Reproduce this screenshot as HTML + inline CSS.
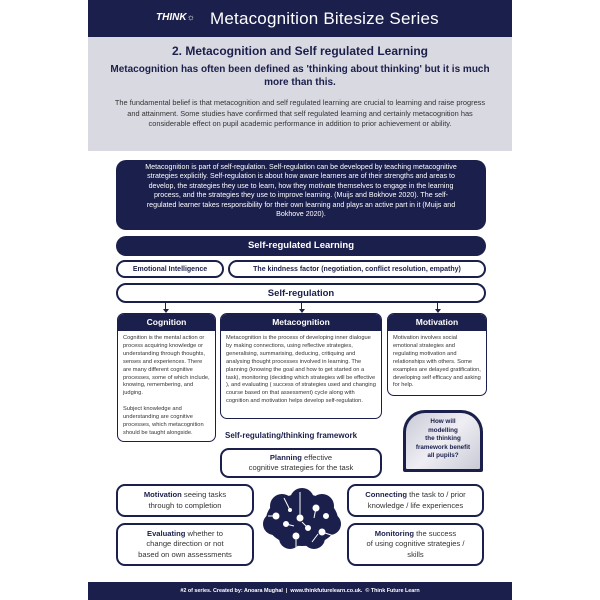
<!DOCTYPE html>
<html><head><meta charset="utf-8"><style>
*{margin:0;padding:0;box-sizing:border-box}
body{width:600px;height:600px;background:#fff;position:relative;overflow:hidden;font-family:"Liberation Sans",sans-serif;color:#1b1f4b}
.a{position:absolute}
.navy{background:#1b1f4b;color:#fff}
.pill{border:2px solid #1b1f4b;border-radius:10px;background:#fff;text-align:center;font-weight:bold;display:flex;align-items:center;justify-content:center}
.card{border:1.5px solid #1b1f4b;border-radius:7px;background:#fff;overflow:hidden}
.card h4{background:#1b1f4b;color:#fff;text-align:center;font-size:8.5px;height:17px;line-height:17px}
.card p{font-size:5.7px;line-height:7.9px;padding:4px 5px;color:#333}
.fb{border:2px solid #1b1f4b;border-radius:9px;background:#fff;text-align:center;font-size:7.6px;line-height:10.2px;display:flex;align-items:center;justify-content:center;color:#333}
.fb b{color:#1b1f4b}
.arr{position:absolute;width:1px;height:7px;background:#1b1f4b}
.arr:after{content:"";position:absolute;left:-2.5px;bottom:-3px;border-left:3px solid transparent;border-right:3px solid transparent;border-top:4px solid #1b1f4b}
</style></head><body>
<div class="a navy" style="left:88px;top:0;width:424px;height:37px"></div>
<div class="a" style="left:156px;top:12px;color:#fff;font-weight:900;font-size:10px;font-style:italic">THINK<span style="font-size:9px">☼</span></div>
<div class="a" style="left:210px;top:9px;color:#fff;font-size:17px;letter-spacing:0.2px">Metacognition Bitesize Series</div>
<div class="a" style="left:88px;top:37px;width:424px;height:114px;background:#d9d9e2"></div>
<div class="a" style="left:88px;top:44px;width:424px;text-align:center;font-weight:bold;font-size:12px">2. Metacognition and Self regulated Learning</div>
<div class="a" style="left:100px;top:63px;width:400px;text-align:center;font-weight:bold;font-size:10px;line-height:13px">Metacognition has often been defined as 'thinking about thinking' but it is much more than this.</div>
<div class="a" style="left:110px;top:98px;width:380px;text-align:center;font-size:7.4px;line-height:10.5px;color:#333">The fundamental belief is that metacognition and self regulated learning are crucial to learning and raise progress and attainment. Some studies have confirmed that self regulated learning and certainly metacognition has considerable effect on pupil academic performance in addition to prior achievement or ability.</div>
<div class="a navy" style="left:116px;top:160px;width:370px;height:70px;border-radius:10px;font-size:7.1px;line-height:9.4px;text-align:center;padding:3px 24px 0">Metacognition is part of self-regulation. Self-regulation can be developed by teaching metacognitive strategies explicitly. Self-regulation is about how aware learners are of their strengths and areas to develop, the strategies they use to learn, how they motivate themselves to engage in the learning process, and the strategies they use to improve learning. (Muijs and Bokhove 2020). The self-regulated learner takes responsibility for their own learning and plays an active part in it (Muijs and Bokhove 2020).</div>
<div class="a navy" style="left:116px;top:236px;width:370px;height:20px;border-radius:10px;text-align:center;font-weight:bold;font-size:9.5px;line-height:20px">Self-regulated Learning</div>
<div class="a pill" style="left:116px;top:260px;width:108px;height:18px;font-size:7px">Emotional Intelligence</div>
<div class="a pill" style="left:228px;top:260px;width:258px;height:18px;font-size:7px">The kindness factor (negotiation, conflict resolution, empathy)</div>
<div class="a pill" style="left:116px;top:283px;width:370px;height:20px;font-size:9.5px">Self-regulation</div>
<div class="arr" style="left:165px;top:303px"></div>
<div class="arr" style="left:301px;top:303px"></div>
<div class="arr" style="left:437px;top:303px"></div>
<div class="a card" style="left:117px;top:313px;width:99px;height:129px"><h4>Cognition</h4><p>Cognition is the mental action or process acquiring knowledge or understanding through thoughts, senses and experiences. There are many different cognitive processes, some of which include, knowing, remembering, and judging.<br><br>Subject knowledge and understanding are cognitive processes, which metacognition should be taught alongside.</p></div>
<div class="a card" style="left:220px;top:313px;width:162px;height:106px"><h4>Metacognition</h4><p>Metacognition is the process of developing inner dialogue by making connections, using reflective strategies, generalising, summarising, deducing, critiquing and analysing thought processes involved in learning. The planning (knowing the goal and how to get started on a task), monitoring (deciding which strategies will be effective ), and evaluating ( success of strategies used and changing course based on that assessment) cycle along with cognition and motivation helps develop self-regulation.</p></div>
<div class="a card" style="left:387px;top:313px;width:100px;height:83px"><h4>Motivation</h4><p>Motivation involves social emotional strategies and regulating motivation and relationships with others. Some examples are delayed gratification, developing self efficacy and asking for help.</p></div>
<div class="a" style="left:225px;top:431px;font-weight:bold;font-size:8px">Self-regulating/thinking framework</div>
<div class="a" style="left:403px;top:410px;width:80px;height:62px;background:#1b1f4b;border-radius:22px 22px 2px 2px;padding:3px">
<div style="width:100%;height:100%;background:linear-gradient(135deg,#c9cad6,#eeeef3 50%,#c9cad6);border-radius:19px 19px 1px 1px;text-align:center;font-weight:bold;font-size:6.3px;line-height:8.5px;padding-top:5px">How will<br>modelling<br>the thinking<br>framework benefit<br>all pupils?</div></div>
<div class="a fb" style="left:220px;top:448px;width:162px;height:30px">
<span><b>Planning</b> effective<br>cognitive strategies for the task</span></div>
<div class="a fb" style="left:116px;top:484px;width:138px;height:33px"><span><b>Motivation</b> seeing tasks<br>through to completion</span></div>
<div class="a fb" style="left:116px;top:523px;width:138px;height:43px"><span><b>Evaluating</b> whether to<br>change direction or not<br>based on own assessments</span></div>
<div class="a fb" style="left:347px;top:484px;width:137px;height:33px"><span><b>Connecting</b> the task to / prior<br>knowledge / life experiences</span></div>
<div class="a fb" style="left:347px;top:523px;width:137px;height:43px"><span><b>Monitoring</b> the success<br>of using cognitive strategies /<br>skills</span></div>
<svg class="a" style="left:260px;top:488px" width="84" height="64" viewBox="0 0 84 64">
<g fill="#1b1f4b"><ellipse cx="42" cy="32" rx="36" ry="26"/><circle cx="22" cy="18" r="12"/><circle cx="42" cy="12" r="12"/><circle cx="62" cy="18" r="12"/><circle cx="14" cy="36" r="11"/><circle cx="70" cy="36" r="11"/><circle cx="30" cy="50" r="11"/><circle cx="54" cy="50" r="11"/></g>
<g stroke="#fff" stroke-width="1" fill="#fff"><line x1="40" y1="4" x2="40" y2="30"/><circle cx="40" cy="30" r="3"/><line x1="24" y1="10" x2="30" y2="22"/><circle cx="30" cy="22" r="1.5"/><line x1="8" y1="28" x2="18" y2="28"/><circle cx="16" cy="28" r="3"/><line x1="26" y1="36" x2="34" y2="38"/><circle cx="26" cy="36" r="2.5"/><line x1="48" y1="40" x2="42" y2="34"/><circle cx="48" cy="40" r="2.5"/><line x1="56" y1="20" x2="54" y2="30"/><circle cx="56" cy="20" r="3"/><circle cx="66" cy="28" r="2.5"/><line x1="62" y1="44" x2="74" y2="48"/><circle cx="62" cy="44" r="3"/><line x1="36" y1="48" x2="36" y2="60"/><circle cx="36" cy="48" r="3"/><line x1="52" y1="54" x2="58" y2="46"/></g></svg>
<div class="a navy" style="left:88px;top:582px;width:424px;height:18px;text-align:center;font-size:5.4px;line-height:18px;font-weight:bold">#2 of series. Created by: Anoara Mughal &nbsp;|&nbsp; www.thinkfuturelearn.co.uk. &nbsp;© Think Future Learn</div>
</body></html>
